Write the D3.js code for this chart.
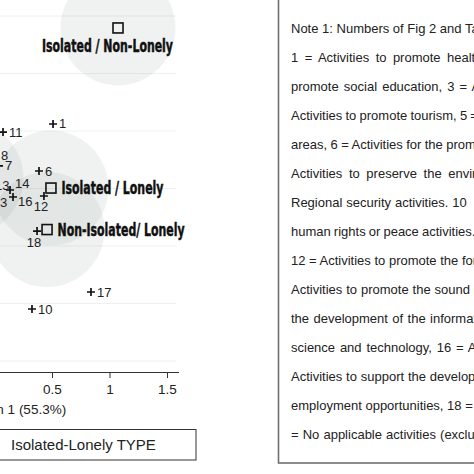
<!DOCTYPE html>
<html>
<head>
    <meta charset="utf-8">
    <title>Isolated-Lonely TYPE map</title>
    <script src="https://cdnjs.cloudflare.com/ajax/libs/d3/7.8.5/d3.min.js"></script>
    <style>
        body { margin: 0; background: #fff; overflow: hidden; }
        text { font-family: "Liberation Sans", Arial, sans-serif; fill: #222; }
        .typelab { font-family: "Liberation Sans Narrow", "DejaVu Sans Condensed", sans-serif; font-weight: bold; fill: #111; stroke: #111; stroke-width: 0.45; }
    </style>
</head>
<body>
    <div id="chart"></div>
    <script>
        // type points (row coordinates)
        const typeNames = ["Isolated / Non-Lonely", "Isolated / Lonely", "Non-Isolated/ Lonely", "Non-Isolated / Non-Lonely"];
        const typeX = [1.074, 0.491, 0.457, -0.248];
        const typeY = [1.896, 0.504, 0.143, 0.591];
        const typeLabelPos = [6, 3, 3, 9];

        // activity points (column coordinates)
        const actIds = ["1", "11", "8", "7", "6", "13", "14", "3", "16", "12", "18", "17", "10"];
        const actX = [0.509, 0.074, 0.004, 0.039, 0.387, -0.048, 0.135, -0.004, 0.161, 0.430, 0.370, 0.839, 0.326];
        const actY = [1.061, 0.991, 0.783, 0.696, 0.652, 0.530, 0.487, 0.374, 0.426, 0.435, 0.130, -0.400, -0.548];
        const actLabelPos = [3, 3, 3, 3, 3, 3, 2, 3, 4, 6, 6, 3, 3];

        const xTicks = [-1, -0.5, 0, 0.5, 1, 1.5];
        const yTicks = [-1, -0.5, 0, 0.5, 1, 1.5, 2];
        const xTitle = "Dimension 1 (55.3%)";
        const legendLabel = "Isolated-Lonely TYPE";

        const noteLines = [
            "Note 1: Numbers of Fig 2 and Table 2",
            "1 = Activities to promote health, medical treatment, or welfare, 2 =",
            "promote social education, 3 = Activities to promote community",
            "Activities to promote tourism, 5 = Activities to promote rural",
            "areas, 6 = Activities for the promotion of academics, culture",
            "Activities to preserve the environment, 8 = Disaster relief",
            "Regional security activities. 10",
            "human rights or peace activities. 11 = International cooperation",
            "12 = Activities to promote the formation of a gender-equal",
            "Activities to promote the sound development of children, 14 =",
            "the development of the information society, 15 = Activities",
            "science and technology, 16 = Activities to invigorate economic",
            "Activities to support the development of vocational skills",
            "employment opportunities, 18 = Activities to protect consumers",
            "= No applicable activities (exclusive)"
        ];
        const noteSpacing = [0, 2.8, 1.5, -0.4, -0.2, 3, 0.3, -0.5, 0, 0.3, 0.8, 1.2, 0.2, 0, 0.5];

        const width = 474, height = 474;
        const svg = d3.select("#chart").append("svg")
            .attr("width", width)
            .attr("height", height);

        const x = d3.scaleLinear().domain([-1.45, 1.6]).range([-172.25, 178.5]);
        const y = d3.scaleLinear().domain([-1.1, 2.15]).range([372.5, -1.25]);
        const circleR = 0.5;

        // grid
        svg.append("g").selectAll("line")
            .data(yTicks)
            .join("line")
            .attr("x1", x.range()[0]).attr("x2", x.range()[1] - 2)
            .attr("y1", d => y(d)).attr("y2", d => y(d))
            .attr("stroke", "#eef0ef").attr("stroke-width", 1);

        // translucent circles round the types
        svg.append("g").selectAll("circle")
            .data(typeNames)
            .join("circle")
            .attr("cx", (d, i) => x(typeX[i]))
            .attr("cy", (d, i) => y(typeY[i]))
            .attr("r", x(circleR) - x(0))
            .attr("fill", "#7f8c88")
            .attr("fill-opacity", 0.115);

        // x axis
        const xAxis = d3.axisBottom(x)
            .tickValues(xTicks)
            .tickSize(6)
            .tickSizeOuter(0)
            .tickPadding(6)
            .tickFormat(d => String(d));
        const gx = svg.append("g")
            .attr("transform", `translate(0,${y(-1.1) - 0.5})`)
            .call(xAxis);
        gx.select(".domain").attr("stroke", "#333");
        gx.selectAll(".tick line").attr("stroke", "#333");
        gx.selectAll(".tick text")
            .attr("font-size", 13.5)
            .attr("font-family", "Liberation Sans, Arial, sans-serif")
            .attr("fill", "#333");

        svg.append("text")
            .attr("x", (x.range()[0] + x.range()[1]) / 2)
            .attr("y", 414)
            .attr("text-anchor", "middle")
            .attr("font-size", 13.5)
            .text(xTitle);

        // plus markers
        const plus = "M-4,0H4M0,-4V4";
        const acts = svg.append("g").selectAll("g")
            .data(actIds)
            .join("g")
            .attr("transform", (d, i) => `translate(${x(actX[i])},${y(actY[i])})`);
        acts.append("path")
            .attr("d", plus)
            .attr("stroke", "#111")
            .attr("stroke-width", 1.7)
            .attr("fill", "none");

        function labelOffset(pos) {
            if (pos === 2) return { dx: 5, dy: -2, anchor: "start" };
            if (pos === 4) return { dx: 5, dy: 8.5, anchor: "start" };
            if (pos === 6) return { dx: -3, dy: 15.5, anchor: "middle" };
            if (pos === 9) return { dx: -8, dy: 4.5, anchor: "end" };
            return { dx: 6, dy: 4.5, anchor: "start" };
        }
        acts.append("text")
            .each(function(d, i) {
                const o = labelOffset(actLabelPos[i]);
                d3.select(this).attr("x", o.dx).attr("y", o.dy).attr("text-anchor", o.anchor);
            })
            .attr("font-size", 13)
            .attr("fill", "#222")
            .text(d => d);

        // type markers
        const types = svg.append("g").selectAll("g")
            .data(typeNames)
            .join("g")
            .attr("transform", (d, i) => `translate(${x(typeX[i])},${y(typeY[i])})`);
        types.append("rect")
            .attr("x", -5).attr("y", -5)
            .attr("width", 10).attr("height", 10)
            .attr("fill", "none")
            .attr("stroke", "#111")
            .attr("stroke-width", 1.6);
        const typeLabelFit = { "Isolated / Non-Lonely": 131, "Isolated / Lonely": 102, "Non-Isolated/ Lonely": 127, "Non-Isolated / Non-Lonely": 160 };
        types.append("text")
            .attr("class", "typelab")
            .each(function(d, i) {
                const pos = typeLabelPos[i];
                const t = d3.select(this);
                if (pos === 6) t.attr("x", -10.5).attr("y", 24).attr("text-anchor", "middle");
                else if (pos === 9) t.attr("x", -10).attr("y", 6).attr("text-anchor", "end");
                else t.attr("x", 10.5).attr("y", 6).attr("text-anchor", "start");
            })
            .attr("font-size", 17)
            .attr("textLength", d => typeLabelFit[d])
            .attr("lengthAdjust", "spacingAndGlyphs")
            .text(d => d);

        // legend
        const lg = svg.append("g");
        lg.append("rect")
            .attr("x", -190).attr("y", 429.5)
            .attr("width", 386).attr("height", 30.5)
            .attr("fill", "#fff")
            .attr("stroke", "#333").attr("stroke-width", 1);
        lg.append("rect")
            .attr("x", -17).attr("y", 440)
            .attr("width", 10).attr("height", 10)
            .attr("fill", "none").attr("stroke", "#111").attr("stroke-width", 1.6);
        lg.append("text")
            .attr("x", 11).attr("y", 450)
            .attr("font-size", 15)
            .text(legendLabel);

        // note box
        const nb = svg.append("g");
        nb.append("rect")
            .attr("x", 278.5).attr("y", -20)
            .attr("width", 400).attr("height", 483)
            .attr("fill", "#fff")
            .attr("stroke", "#707070").attr("stroke-width", 1.6);
        nb.selectAll("text")
            .data(noteLines)
            .join("text")
            .attr("x", 291)
            .attr("y", (d, i) => 33 + 29 * i)
            .attr("font-size", 13)
            .attr("word-spacing", (d, i) => noteSpacing[i])
            .attr("fill", "#222")
            .text(d => d);
    </script>
</body>
</html>
